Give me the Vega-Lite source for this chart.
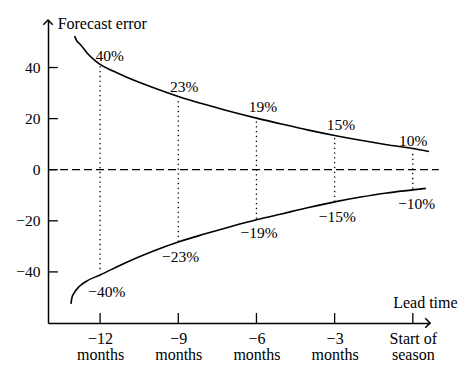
{
  "$schema": "https://vega.github.io/schema/vega-lite/v6.json",
  "width": 382,
  "height": 303,
  "autosize": {"type": "none"},
  "padding": {"left": 48, "top": 20, "right": 44, "bottom": 58},
  "background": "white",
  "config": {
    "view": {"stroke": null},
    "font": "Liberation Serif",
    "axis": {
      "domainColor": "black", "domainWidth": 1.5, "ticks": false,
      "labelFont": "Liberation Serif", "labelFontSize": 15.5, "labelColor": "black",
      "grid": false, "title": null
    }
  },
  "datasets": {
    "curves": [
      {"series": "upper", "x": -12.98, "y": 52.3},
      {"series": "upper", "x": -12.9, "y": 50.5},
      {"series": "upper", "x": -12.75, "y": 48.9},
      {"series": "upper", "x": -12.5, "y": 45.7},
      {"series": "upper", "x": -12.25, "y": 43.2},
      {"series": "upper", "x": -12, "y": 41.2},
      {"series": "upper", "x": -11.5, "y": 38.6},
      {"series": "upper", "x": -11, "y": 36.3},
      {"series": "upper", "x": -10, "y": 32.3},
      {"series": "upper", "x": -9, "y": 28.7},
      {"series": "upper", "x": -8, "y": 25.6},
      {"series": "upper", "x": -7, "y": 22.8},
      {"series": "upper", "x": -6, "y": 20.2},
      {"series": "upper", "x": -5, "y": 17.8},
      {"series": "upper", "x": -4, "y": 15.5},
      {"series": "upper", "x": -3, "y": 13.4},
      {"series": "upper", "x": -2, "y": 11.5},
      {"series": "upper", "x": -1, "y": 9.8},
      {"series": "upper", "x": 0, "y": 8.3},
      {"series": "upper", "x": 0.62, "y": 7.1},
      {"series": "lower", "x": -13.12, "y": -52.5},
      {"series": "lower", "x": -13.08, "y": -50},
      {"series": "lower", "x": -13.0, "y": -48.3},
      {"series": "lower", "x": -12.8, "y": -45.7},
      {"series": "lower", "x": -12.5, "y": -43.5},
      {"series": "lower", "x": -12, "y": -41.2},
      {"series": "lower", "x": -11, "y": -36.3},
      {"series": "lower", "x": -10, "y": -32},
      {"series": "lower", "x": -9, "y": -28.3},
      {"series": "lower", "x": -8, "y": -25.2},
      {"series": "lower", "x": -7, "y": -22.3},
      {"series": "lower", "x": -6, "y": -19.6},
      {"series": "lower", "x": -5, "y": -17.2},
      {"series": "lower", "x": -4, "y": -14.8},
      {"series": "lower", "x": -3, "y": -12.6},
      {"series": "lower", "x": -2, "y": -10.7},
      {"series": "lower", "x": -1, "y": -9.1},
      {"series": "lower", "x": 0, "y": -7.9},
      {"series": "lower", "x": 0.5, "y": -7.3}
    ],
    "drops": [
      {"x": -12, "top": 40.5, "bottom": -39.8},
      {"x": -9, "top": 26.8, "bottom": -28.3},
      {"x": -6, "top": 18.9, "bottom": -19.6},
      {"x": -3, "top": 12.4, "bottom": -12.6},
      {"x": 0, "top": 6.2, "bottom": -7.9}
    ],
    "xticks": [
      {"x": -12, "y": -60, "y2": -56.1},
      {"x": -9, "y": -60, "y2": -56.1},
      {"x": -6, "y": -60, "y2": -56.1},
      {"x": -3, "y": -60, "y2": -56.1},
      {"x": 0, "y": -60, "y2": -56.1}
    ],
    "yticks": [
      {"y": -40, "x": -14, "x2": -13.62},
      {"y": -20, "x": -14, "x2": -13.62},
      {"y": 0, "x": -14, "x2": -13.62},
      {"y": 20, "x": -14, "x2": -13.62},
      {"y": 40, "x": -14, "x2": -13.62}
    ],
    "labels": [
      {"x": -11.63, "y": 44.5, "text": "40%"},
      {"x": -8.77, "y": 32.3, "text": "23%"},
      {"x": -5.75, "y": 24.5, "text": "19%"},
      {"x": -2.76, "y": 17.5, "text": "15%"},
      {"x": 0.02, "y": 11.4, "text": "10%"},
      {"x": -11.74, "y": -47.8, "text": "−40%"},
      {"x": -8.91, "y": -34.1, "text": "−23%"},
      {"x": -5.9, "y": -24.7, "text": "−19%"},
      {"x": -2.9, "y": -18.6, "text": "−15%"},
      {"x": 0.15, "y": -13.4, "text": "−10%"}
    ]
  },
  "layer": [
    {
      "data": {"name": "curves"},
      "mark": {"type": "line", "color": "black", "strokeWidth": 1.6, "interpolate": "monotone"},
      "encoding": {
        "x": {"field": "x", "type": "quantitative", "scale": {"domain": [-14, 0.66], "nice": false, "zero": false},
          "axis": {"values": [-12, -9, -6, -3, 0], "labelPadding": 7, "labelLineHeight": 16, "labelFontSize": 16, "labelBaseline": "top",
            "labelExpr": "datum.value == 0 ? ['Start of', 'season'] : ['−' + abs(datum.value), 'months']"}},
        "y": {"field": "y", "type": "quantitative", "scale": {"domain": [-60, 58.6], "nice": false, "zero": false},
          "axis": {"values": [-40, -20, 0, 20, 40], "labelPadding": 8, "labelExpr": "replace(datum.label, '-', '−')"}},
        "detail": {"field": "series"}
      }
    },
    {
      "data": {"name": "drops"},
      "mark": {"type": "rule", "color": "black", "strokeWidth": 1.3, "strokeDash": [1.3, 3.5]},
      "encoding": {
        "x": {"field": "x", "type": "quantitative"},
        "y": {"field": "top", "type": "quantitative"},
        "y2": {"field": "bottom"}
      }
    },
    {
      "data": {"name": "xticks"},
      "mark": {"type": "rule", "color": "black", "strokeWidth": 1.3},
      "encoding": {
        "x": {"field": "x", "type": "quantitative"},
        "y": {"field": "y", "type": "quantitative"},
        "y2": {"field": "y2"}
      }
    },
    {
      "data": {"name": "yticks"},
      "mark": {"type": "rule", "color": "black", "strokeWidth": 1.3},
      "encoding": {
        "x": {"field": "x", "type": "quantitative"},
        "x2": {"field": "x2"},
        "y": {"field": "y", "type": "quantitative"}
      }
    },
    {
      "data": {"values": [{"x": -14, "x2": 1.0, "y": 0}]},
      "mark": {"type": "rule", "color": "black", "strokeWidth": 1.3, "strokeDash": [8, 4], "clip": false},
      "encoding": {
        "x": {"field": "x", "type": "quantitative"},
        "x2": {"field": "x2"},
        "y": {"field": "y", "type": "quantitative"}
      }
    },
    {
      "data": {"name": "labels"},
      "mark": {"type": "text", "font": "Liberation Serif", "fontSize": 15.5, "color": "black", "align": "center", "baseline": "middle"},
      "encoding": {
        "x": {"field": "x", "type": "quantitative"},
        "y": {"field": "y", "type": "quantitative"},
        "text": {"field": "text"}
      }
    },
    {
      "data": {"values": [{"x": -14, "y": 58.6}]},
      "mark": {"type": "point", "shape": "M-1,1L0,0L1,1", "size": 90, "filled": false, "stroke": "black", "strokeWidth": 1.5, "opacity": 1},
      "encoding": {
        "x": {"field": "x", "type": "quantitative"},
        "y": {"field": "y", "type": "quantitative"}
      }
    },
    {
      "data": {"values": [{"x": 0.66, "y": -60}]},
      "mark": {"type": "point", "shape": "M-1,-1L0,0L-1,1", "size": 90, "filled": false, "stroke": "black", "strokeWidth": 1.5, "opacity": 1},
      "encoding": {
        "x": {"field": "x", "type": "quantitative"},
        "y": {"field": "y", "type": "quantitative"}
      }
    },
    {
      "data": {"values": [{"x": -13.63, "y": 57.2, "text": "Forecast error"}]},
      "mark": {"type": "text", "font": "Liberation Serif", "fontSize": 16, "color": "black", "align": "left", "baseline": "middle"},
      "encoding": {
        "x": {"field": "x", "type": "quantitative"},
        "y": {"field": "y", "type": "quantitative"},
        "text": {"field": "text"}
      }
    },
    {
      "data": {"values": [{"x": 1.72, "y": -52, "text": "Lead time"}]},
      "mark": {"type": "text", "font": "Liberation Serif", "fontSize": 16, "color": "black", "align": "right", "baseline": "middle"},
      "encoding": {
        "x": {"field": "x", "type": "quantitative"},
        "y": {"field": "y", "type": "quantitative"},
        "text": {"field": "text"}
      }
    }
  ]
}
